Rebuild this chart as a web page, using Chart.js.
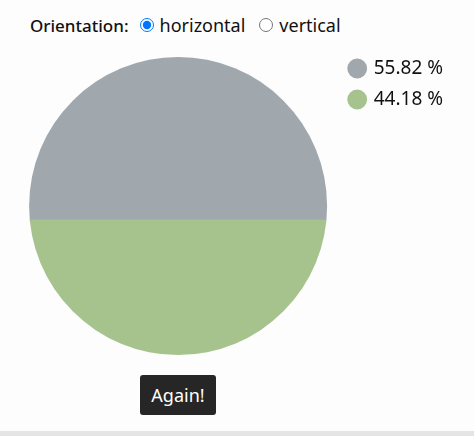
<!DOCTYPE html>
<html>
<head>
<meta charset="utf-8">
<script src="https://cdn.jsdelivr.net/npm/chart.js@4"></script>
<style>
  body { margin: 0; background: #fefdfe; font-family: "Noto Sans", sans-serif; color: #111; }
  .top { position: absolute; left: 30px; top: 13px; font-size: 18px; display: flex; align-items: center; }
  .top b { font-weight: 500; font-size: 17px; margin-right: 11px; }
  .top label { display: flex; align-items: center; margin-right: 14px; }
  .top input { margin: 0 6px 0 0; width: 14px; height: 14px; }
  #wrap { position: absolute; left: 0; top: 37px; width: 474px; height: 328px; }
  #again { position: absolute; left: 140px; top: 375px; width: 76px; height: 40px; background: #262626; color: #fff;
           border: none; border-radius: 3px; font: 18px "Noto Sans", sans-serif; }
  .foot { position: absolute; left: 0; bottom: 0; width: 474px; height: 5px; background: #e4e4e4; }
</style>
</head>
<body>
<div class="top">
  <b>Orientation:</b>
  <label><input type="radio" name="o" checked>horizontal</label>
  <label><input type="radio" name="o">vertical</label>
</div>
<div id="wrap"><canvas id="myPieChart"></canvas></div>
<button id="again">Again!</button>
<div class="foot"></div>
<script>
var shares = [55.82, 44.18];
var colors = ["#a1a8ad", "#a6c38e"];
var labels = shares.map(function (v) { return v.toFixed(2) + " %"; });

// fill the circle like a glass: each slice becomes a horizontal band
var levelPlugin = {
  id: "level",
  beforeDatasetDraw: function (chart, args) {
    var meta = args.meta;
    var arc = meta.data[0];
    if (!arc) return;
    var cx = arc.x, cy = arc.y, r = arc.outerRadius;
    var ds = chart.data.datasets[args.index];
    var total = ds.data.reduce(function (a, b) { return a + b; }, 0);
    var ctx = chart.ctx;
    // y of the level line for a cumulative share, counted from the top
    function levelY(frac) {
      if (frac <= 0) return cy - r;
      if (frac >= 1) return cy + r;
      var lo = 0, hi = 2 * Math.PI;
      for (var i = 0; i < 60; i++) {
        var t = (lo + hi) / 2;
        if ((t - Math.sin(t)) / (2 * Math.PI) < frac) lo = t; else hi = t;
      }
      return cy - r * Math.cos(lo / 2);
    }
    var acc = 0;
    ctx.save();
    ctx.beginPath();
    ctx.arc(cx, cy, r, 0, 2 * Math.PI);
    ctx.clip();
    ds.data.forEach(function (v, i) {
      var y0 = levelY(acc / total);
      acc += v;
      var y1 = levelY(acc / total);
      ctx.fillStyle = ds.backgroundColor[i];
      ctx.fillRect(cx - r - 1, y0, 2 * r + 2, y1 - y0 + (i < ds.data.length - 1 ? 0.5 : 0));
    });
    ctx.restore();
    return false;
  }
};

var ctx = document.getElementById("myPieChart").getContext("2d");
var myPieChart = new Chart(ctx, {
  type: "pie",
  data: {
    labels: labels,
    datasets: [{ data: shares, backgroundColor: colors, borderWidth: 0 }]
  },
  options: {
    responsive: true,
    maintainAspectRatio: false,
    animation: false,
    radius: 149,
    layout: { padding: { top: 10, bottom: 0, left: 18, right: 21 } },
    plugins: {
      tooltip: { enabled: false },
      legend: {
        position: "right",
        align: "start",
        labels: {
          usePointStyle: true,
          pointStyle: "circle",
          boxWidth: 14,
          boxHeight: 14,
          padding: 12,
          color: "#111",
          font: { family: "Noto Sans", size: 19 }
        }
      }
    }
  },
  plugins: [levelPlugin]
});
</script>
</body>
</html>
